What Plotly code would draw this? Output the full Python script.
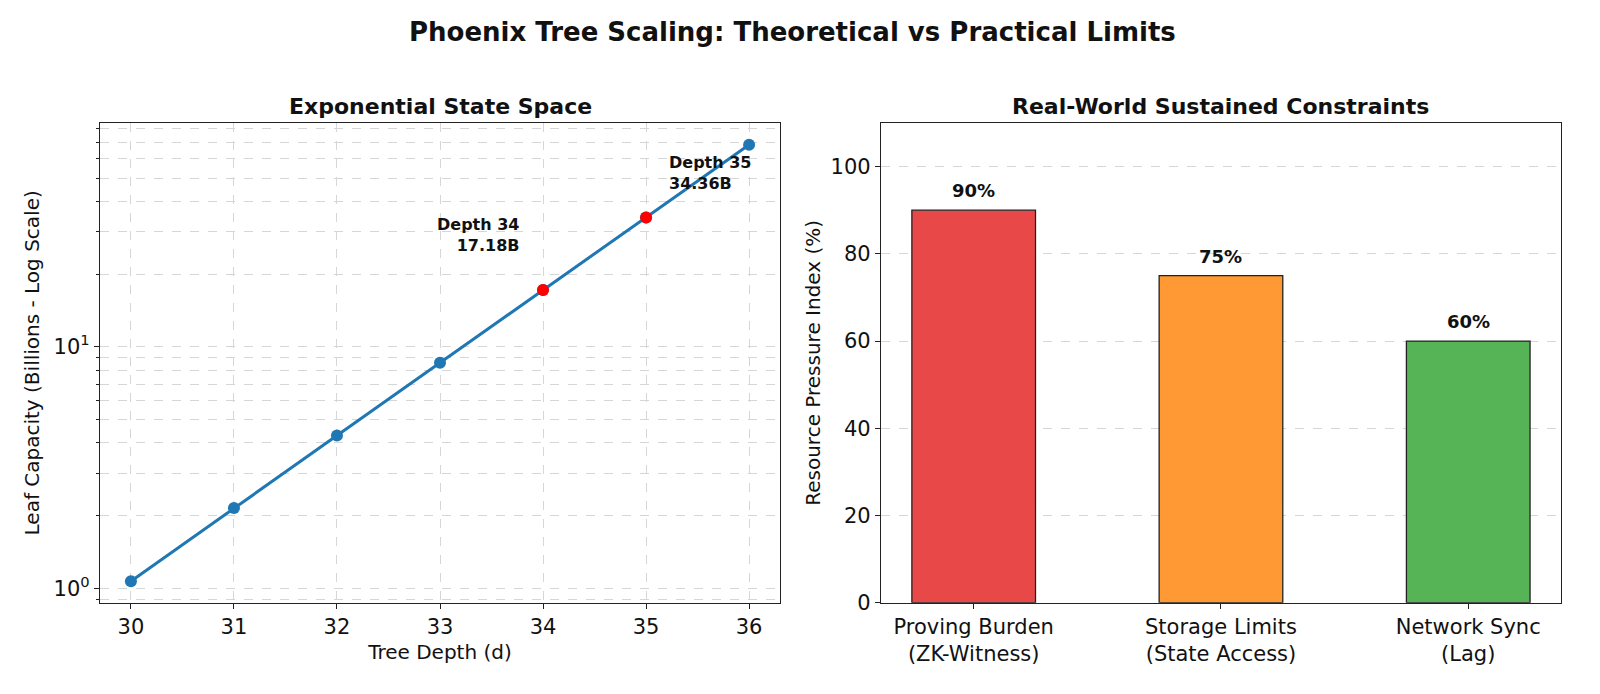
import math
import plotly.graph_objects as go

# left panel: leaf capacity per tree depth (billions, 2^d)
depths = [30, 31, 32, 33, 34, 35, 36]
capacity_b = [1.07, 2.15, 4.29, 8.59, 17.18, 34.36, 68.72]
highlight_depths = [34, 35]
highlight_caps = [17.18, 34.36]

# right panel: constraint pressure
constraints = ["Proving Burden<br>(ZK-Witness)", "Storage Limits<br>(State Access)", "Network Sync<br>(Lag)"]
pressure = [90, 75, 60]
bar_colors = ["#e94849", "#ff9933", "#56b356"]

FONT = "DejaVu Sans"
GRID = "#d6d6d6"

fig = go.Figure()

fig.add_trace(go.Scatter(
    x=depths, y=capacity_b, mode="lines+markers",
    line=dict(color="#1f77b4", width=3),
    marker=dict(color="#1f77b4", size=12),
    xaxis="x", yaxis="y", showlegend=False,
))
fig.add_trace(go.Scatter(
    x=highlight_depths, y=highlight_caps, mode="markers",
    marker=dict(color="#ff0000", size=12),
    xaxis="x", yaxis="y", showlegend=False,
))

fig.add_trace(go.Bar(
    x=[0, 1, 2], y=pressure, width=0.5,
    marker=dict(color=bar_colors, line=dict(color="#222222", width=1.3)),
    xaxis="x2", yaxis="y2", showlegend=False,
))

axis_common = dict(
    showline=True, linecolor="#222222", linewidth=1.3, mirror=True,
    ticks="outside", ticklen=5, tickcolor="#222222",
    tickfont=dict(family=FONT, size=21, color="#111111"),
    zeroline=False,
)

fig.update_layout(
    width=1600, height=694,
    margin=dict(l=0, r=0, t=0, b=0),
    paper_bgcolor="white", plot_bgcolor="white",
    font=dict(family=FONT, color="#111111"),
    xaxis=dict(
        axis_common, domain=[0.0575, 0.4825], range=[29.7, 36.3],
        tickvals=depths, showgrid=True, gridcolor=GRID, griddash="dash",
        title=dict(text="Tree Depth (d)", font=dict(size=20), standoff=6),
    ),
    yaxis=dict(
        axis_common, domain=[0.128, 0.8314], type="log", range=[-0.0597, 1.927],
        tickvals=[1, 10], ticktext=["10<sup>0</sup>", "10<sup>1</sup>"],
        showgrid=True, gridcolor=GRID, griddash="dash",
        minor=dict(
            tickvals=[0.9, 2, 3, 4, 5, 6, 7, 8, 9, 20, 30, 40, 50, 60, 70, 80],
            ticks="outside", ticklen=3, tickcolor="#222222",
            showgrid=True, gridcolor=GRID, griddash="dash",
        ),
        title=dict(text="Leaf Capacity (Billions - Log Scale)", font=dict(size=20), standoff=8),
    ),
    xaxis2=dict(
        axis_common, domain=[0.5456, 0.9706], range=[-0.375, 2.375],
        tickvals=[0, 1, 2], ticktext=constraints, showgrid=False,
    ),
    yaxis2=dict(
        axis_common, domain=[0.128, 0.8314], anchor="x2", range=[0, 110],
        tickvals=[0, 20, 40, 60, 80, 100],
        showgrid=True, gridcolor=GRID, griddash="dash",
        title=dict(text="Resource Pressure Index (%)", font=dict(size=20), standoff=4),
    ),
)
fig.layout.xaxis2.anchor = "y2"

annotations = [
    dict(text="<b>Phoenix Tree Scaling: Theoretical vs Practical Limits</b>",
         xref="paper", yref="paper", x=0.49, y=1 - 24 / 694, xanchor="center", yanchor="middle",
         showarrow=False, font=dict(size=26)),
    dict(text="<b>Exponential State Space</b>",
         xref="paper", yref="paper", x=0.27, y=1 - 100 / 694, xanchor="center", yanchor="middle",
         showarrow=False, font=dict(size=22)),
    dict(text="<b>Real-World Sustained Constraints</b>",
         xref="paper", yref="paper", x=0.758, y=1 - 100 / 694, xanchor="center", yanchor="middle",
         showarrow=False, font=dict(size=22)),
]

for d, c, side in zip(highlight_depths, highlight_caps, ["right", "left"]):
    label = f"<b>Depth {d}<br>{c:.2f}B</b>"
    if side == "right":
        annotations.append(dict(text=label, xref="x", yref="y", x=d, y=math.log10(c),
                                xanchor="right", yanchor="middle", align="right",
                                xshift=-22, yshift=55, showarrow=False, font=dict(size=16)))
    else:
        annotations.append(dict(text=label, xref="x", yref="y", x=d, y=math.log10(c),
                                xanchor="left", yanchor="middle", align="left",
                                xshift=21, yshift=44, showarrow=False, font=dict(size=16)))

for i, v in enumerate(pressure):
    annotations.append(dict(text=f"<b>{v}%</b>", xref="x2", yref="y2", x=i, y=v,
                            xanchor="center", yanchor="bottom", yshift=7,
                            showarrow=False, font=dict(size=18)))

fig.update_layout(annotations=annotations)

fig.write_html("out.html")
